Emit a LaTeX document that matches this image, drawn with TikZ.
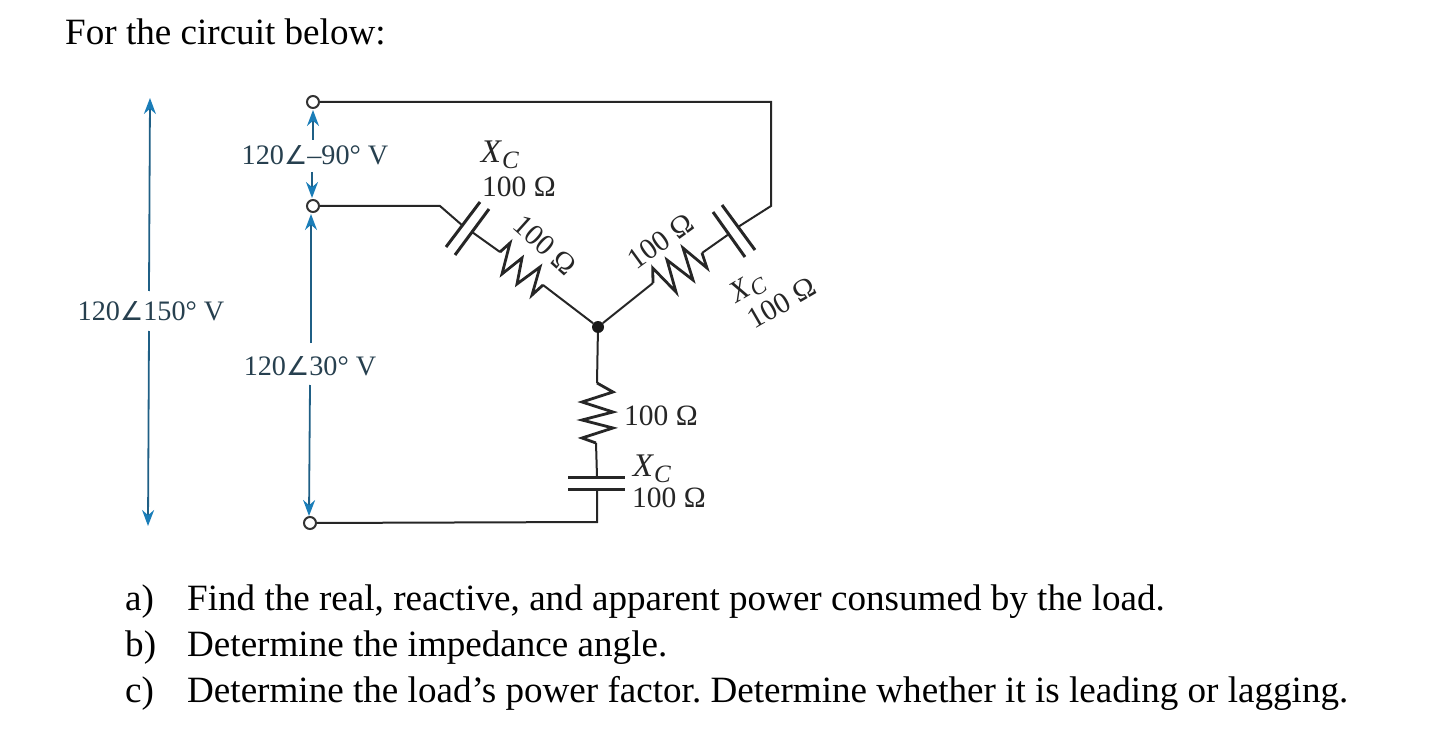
\documentclass[tikz,border=0pt]{standalone}
\usepackage{fontspec}
\setmainfont{Liberation Serif}
\newfontfamily\symfont{DejaVu Sans}
\usetikzlibrary{arrows.meta}
\definecolor{arrowblue}{HTML}{1A7DB8}
\definecolor{shaftblue}{HTML}{1F5F85}
\definecolor{labelnavy}{HTML}{27404F}
\newcommand{\ang}{{\symfont\fontsize{26}{26}\selectfont ∠}}
\newcommand{\xc}{{\fontsize{33}{33}\selectfont\textit{X}}\raisebox{-6pt}{\fontsize{25}{25}\selectfont\textit{C}}}
\newcommand{\xcs}{{\fontsize{30}{30}\selectfont\textit{X}}\raisebox{-4pt}{\fontsize{23}{23}\selectfont\textit{C}}}
\tikzset{
  x=1pt,y=-1pt,
  wire/.style={draw=black!85,line width=2pt,line join=miter},
  plate/.style={draw=black!85,line width=3pt},
  zig/.style={draw=black!85,line width=2.8pt,line join=miter},
  terminal/.style={circle,draw=black!80,fill=white,line width=2pt,minimum size=12pt,inner sep=0pt},
  junction/.style={circle,fill=black!90,minimum size=12pt,inner sep=0pt},
  volt/.style={draw=shaftblue,line width=1.8pt,-{Stealth[length=16pt,width=12pt,color=arrowblue]}},
  para/.style={font=\fontsize{37.1}{37.1}\selectfont,anchor=base west,inner sep=0pt,text=black},
  lbl/.style={font=\fontsize{28.2}{28.2}\selectfont,inner sep=0pt,text=labelnavy},
  val/.style={font=\fontsize{29.5}{29.5}\selectfont,inner sep=0pt,text=black!85},
}
\begin{document}
\frenchspacing
\begin{tikzpicture}
\useasboundingbox (0,0) rectangle (1429,751);
% text
\node[para] (head) at (65,45) {For the circuit below:};
\node[para] (qa) at (125,610) {a)};
\node[para] (qat) at (187,610) {Find the real, reactive, and apparent power consumed by the load.};
\node[para] (qb) at (125,656) {b)};
\node[para] (qbt) at (187,656) {Determine the impedance angle.};
\node[para] (qc) at (125,702) {c)};
\node[para] (qct) at (187,702) {Determine the load’s power factor. Determine whether it is leading or lagging.};
% terminals and junction
\coordinate (c1) at (771,102);
\coordinate (c2) at (771,206);
\coordinate (c3) at (440,206);
\coordinate (c4) at (597,522);
\node[terminal] (ta) at (313,102) {};
\node[terminal] (tb) at (313,206) {};
\node[terminal] (tc) at (310,523) {};
\node[junction] (n) at (598,327) {};
% left branch
\coordinate (lc1) at (463,226);
\coordinate (lc2) at (472,232);
\coordinate (lr1) at (500,252);
\coordinate (lr2) at (543,285);
\draw[wire] (tb) -- (c3) -- (lc1);
\draw[plate] (446,247) -- (480,202);
\draw[plate] (455,255) -- (489,209);
\draw[wire] (lc2) -- (lr1);
\draw[zig] (lr1) -- (510,243) -- (502,274) -- (522,258) -- (517,284) -- (540,267) -- (532,295) -- (lr2);
\draw[wire] (lr2) -- (n);
% right branch
\coordinate (rc1) at (738,227);
\coordinate (rc2) at (729,234);
\coordinate (rr1) at (702,253);
\coordinate (rr2) at (653,283);
\draw[wire] (ta) -- (c1) -- (c2) -- (rc1);
\draw[plate] (713,212) -- (745,257);
\draw[plate] (722,205) -- (755,250);
\draw[wire] (rc2) -- (rr1);
\draw[zig] (rr1) -- (707,268) -- (683,248) -- (693,280) -- (667,260) -- (676,292) -- (652.7,268) -- (rr2);
\draw[wire] (rr2) -- (n);
% lower branch
\coordinate (dr1) at (597,383);
\coordinate (dr2) at (596,443);
\coordinate (dc1) at (597,477);
\coordinate (dc2) at (597,489);
\draw[wire] (n) -- (dr1);
\draw[zig] (dr1) -- (613,392) -- (582,402) -- (613,412) -- (582,420) -- (613,428) -- (582,438) -- (dr2);
\draw[wire] (dr2) -- (dc1);
\draw[plate] (568,477) -- (625,477);
\draw[plate] (568,489) -- (625,489);
\draw[wire] (dc2) -- (c4) -- (tc);
% voltage arrows
\node[lbl] (v1) at (151,311) {120\ang150° V};
\node[lbl] (v2) at (315,155) {120\ang–90° V};
\node[lbl] (v3) at (310,366) {120\ang30° V};
\draw[volt] (149,291) -- (150,98);
\draw[volt] (149,331) -- (148,526);
\draw[volt] (313,140) -- (313,110);
\draw[volt] (312,172) -- (312,198);
\draw[volt] (311,343) -- (311,214);
\draw[volt] (310,385) -- (309,516);
% element values
\node[val] (x1) at (500,155) {\xc};
\node[val] (r1v) at (519,187) {100 Ω};
\node[val,rotate=-42] (r2v) at (545,245) {100 Ω};
\node[val,rotate=36] (r3v) at (661,241) {100 Ω};
\node[val,rotate=30] (x2) at (748,288) {\xcs};
\node[val,rotate=30] (r4v) at (782,303) {100 Ω};
\node[val] (r5v) at (661,416) {100 Ω};
\node[val] (x3) at (652,469) {\xc};
\node[val] (r6v) at (669,498) {100 Ω};
\end{tikzpicture}
\end{document}
